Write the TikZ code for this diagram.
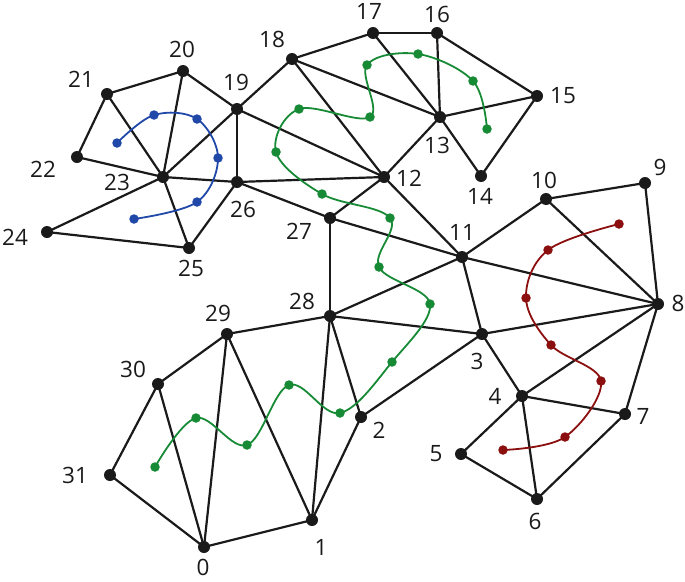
\documentclass[tikz,border=0pt]{standalone}
\usepackage{fontspec}
\setmainfont{Open Sans}
\definecolor{cblue}{HTML}{1F48A8}
\definecolor{cgreen}{HTML}{178A36}
\definecolor{cred}{HTML}{8C0F0F}
\definecolor{ink}{HTML}{1A1A1A}
\begin{document}
\begin{tikzpicture}[x=1pt,y=-1pt,
  v/.style={circle,fill=ink,inner sep=0pt,minimum size=12pt},
  e/.style={line width=2.2pt,draw=ink},
  lbl/.style={font=\fontsize{22.5}{26}\selectfont,text=ink,inner sep=0pt},
  cb/.style={line width=1.8pt,draw=cblue},
  cg/.style={line width=1.8pt,draw=cgreen},
  cr/.style={line width=1.8pt,draw=cred},
  bdot/.style={circle,fill=cblue,inner sep=0pt,minimum size=9.5pt},
  gdot/.style={circle,fill=cgreen,inner sep=0pt,minimum size=9.5pt},
  rdot/.style={circle,fill=cred,inner sep=0pt,minimum size=9.5pt}]
\useasboundingbox (0,0) rectangle (685,581);
% vertices
\coordinate (p0) at (204,547);
\coordinate (p1) at (312,520);
\coordinate (p2) at (361,417);
\coordinate (p3) at (482,334);
\coordinate (p4) at (522,396);
\coordinate (p5) at (461,454);
\coordinate (p6) at (537,499);
\coordinate (p7) at (625,414);
\coordinate (p8) at (658,304);
\coordinate (p9) at (645,183);
\coordinate (p10) at (546,199);
\coordinate (p11) at (462,257);
\coordinate (p12) at (384,177);
\coordinate (p13) at (440,117);
\coordinate (p14) at (481,176);
\coordinate (p15) at (537,96);
\coordinate (p16) at (437,33);
\coordinate (p17) at (373,33);
\coordinate (p18) at (292,59);
\coordinate (p19) at (237,109);
\coordinate (p20) at (183,71);
\coordinate (p21) at (107,94);
\coordinate (p22) at (77,157);
\coordinate (p23) at (163,177);
\coordinate (p24) at (47,232);
\coordinate (p25) at (189,248);
\coordinate (p26) at (237,182);
\coordinate (p27) at (330,218);
\coordinate (p28) at (330,316);
\coordinate (p29) at (227,334);
\coordinate (p30) at (158,384);
\coordinate (p31) at (110,475);
% edges
\foreach \a/\b in {21/20,21/22,21/23,20/23,20/19,22/23,19/23,19/26,19/18,19/12,
  23/26,23/24,23/25,24/25,25/26,26/12,26/27,27/12,27/11,27/28,
  18/17,18/13,18/12,17/16,17/13,16/13,16/15,13/15,13/12,13/14,14/15,
  12/11,11/10,11/8,11/28,11/3,10/9,10/8,9/8,8/3,8/4,8/7,
  3/28,3/2,3/4,4/7,4/5,4/6,5/6,6/7,
  28/29,28/1,28/2,2/1,29/30,29/0,29/1,30/31,30/0,31/0,0/1}
  \draw[e] (p\a) -- (p\b);
% blue curve
\coordinate (b1) at (117,143);
\coordinate (b2) at (154,115);
\coordinate (b3) at (197,119);
\coordinate (b4) at (218,158);
\coordinate (b5) at (197,202);
\coordinate (b6) at (134,219);
\draw[cb] plot[smooth,tension=0.6] coordinates {(b1) (b2) (b3) (b4) (b5) (b6)};
\foreach \i in {1,...,6} \node[bdot] (bd\i) at (b\i) {};
% green curve
\coordinate (g1) at (155,467);
\coordinate (g2) at (196,418);
\coordinate (g3) at (247,445);
\coordinate (g4) at (289,385);
\coordinate (g5) at (340,413);
\coordinate (g6) at (392,362);
\coordinate (g7) at (430,304);
\coordinate (g8) at (379,267);
\coordinate (g9) at (390,218);
\coordinate (g10) at (322,194);
\coordinate (g11) at (276,152);
\coordinate (g12) at (299,109);
\coordinate (g13) at (370,117);
\coordinate (g14) at (367,65);
\coordinate (g15) at (418,54);
\coordinate (g16) at (473,81);
\coordinate (g17) at (487,129);
\draw[cg] plot[smooth,tension=0.6] coordinates {(g1) (g2) (g3) (g4) (g5) (g6) (g7) (g8) (g9) (g10) (g11) (g12) (g13) (g14) (g15) (g16) (g17)};
\foreach \i in {1,...,17} \node[gdot] (gd\i) at (g\i) {};
% red curve
\coordinate (r1) at (619,224);
\coordinate (r2) at (548,250);
\coordinate (r3) at (526,298);
\coordinate (r4) at (551,345);
\coordinate (r5) at (601,381);
\coordinate (r6) at (565,437);
\coordinate (r7) at (503,450);
\draw[cr] plot[smooth,tension=0.6] coordinates {(r1) (r2) (r3) (r4) (r5) (r6) (r7)};
\foreach \i in {1,...,7} \node[rdot] (rd\i) at (r\i) {};
% vertex dots
\foreach \i in {0,...,31} \node[v] (n\i) at (p\i) {};
% labels
\foreach \i/\x/\y in {0/203/567,1/321/547,2/379/430,3/477/361,4/495/396,5/436/454,
  6/535/521,7/643/416,8/678/303,9/660/167,10/544/180,11/462/232,12/409/178,
  13/437/145,14/480/196,15/563/96,16/437/14,17/369/11,18/272/39,19/236/82,
  20/182/49,21/81/79,22/43/169,23/117/182,24/15/237,25/191/268,26/243/209,
  27/299/231,28/302/301,29/218/313,30/133/369,31/75/475}
  \node[lbl] (l\i) at (\x,\y) {\i};
\end{tikzpicture}
\end{document}
